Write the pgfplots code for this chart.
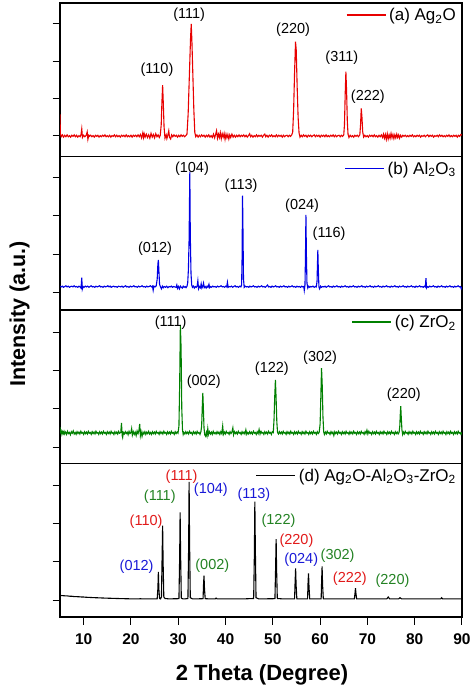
\documentclass[border=0pt]{standalone}
\usepackage{fontspec}
\setmainfont{Liberation Sans}
\usepackage{pgfplots}
\pgfplotsset{compat=1.18}

\definecolor{agred}{RGB}{232,0,0}
\definecolor{alblue}{RGB}{0,0,228}
\definecolor{zrgreen}{RGB}{0,128,0}
\definecolor{lblred}{RGB}{225,25,25}
\definecolor{lblblue}{RGB}{25,25,215}
\definecolor{lblgreen}{RGB}{35,130,35}

% short legend line with a small gap before the entry text
\pgfplotsset{legend image code/.code={%
  \draw[#1, line width=1.2bp] (0bp,0bp) -- (39bp,0bp);
  \path (40bp,0bp);}}

\pgfplotsset{
  xrdpanel/.style={
    scale only axis, width=402bp, height=153.5bp,
    xmin=5, xmax=90, anchor=south west,
    axis line style={line width=1.1bp},
    ytick={0,1,2,3}, yticklabels={}, ytick pos=left,
    xtick pos=bottom,
    tick align=outside, major tick length=7.5bp,
    tick style={line width=1bp, black},
    legend cell align=left,
    legend style={draw=none, fill=none, at={(1,1)}, anchor=north east,
      xshift=-3bp, yshift=-2bp, inner sep=1bp,
      font=\fontsize{17bp}{20bp}\selectfont},
  },
}
\tikzset{hkl/.style={font=\fontsize{14.5bp}{17bp}\selectfont, inner sep=0pt}}

\begin{document}
\begin{tikzpicture}
\path[use as bounding box] (0,0) rectangle (474bp,689bp);

% (a) Ag2O
\begin{axis}[xrdpanel, at={(60bp,532.5bp)}, ymin=-0.548, ymax=3.556, xtick=\empty]
\addplot[agred, line width=1.1bp] coordinates {
(5,0.58)(5.08,0.06)(5.25,-0.02)(5.5,0.03)(5.75,-0.03)(6,0.02)(6.25,-0.02)(6.5,0.03)(6.75,-0.02)(7,0.01)
(7.25,-0.03)(7.5,0.02)(7.75,-0.01)(8,0.03)(8.25,-0.02)(8.5,0.02)(8.75,-0.03)(9,0.01)(9.25,-0.02)(9.45,0.04)
(9.6,0.19)(9.75,-0.04)(10,0.02)(10.25,-0.02)(10.55,0.02)(10.75,0.11)(10.9,-0.09)(11.1,0.02)(11.25,-0.01)(11.5,0.02)
(11.75,-0.02)(12,0.01)(12.25,-0.03)(12.5,0.02)(12.75,-0.01)(13,0.02)(13.25,-0.03)(13.5,0.01)(13.75,-0.02)(14,0.02)
(14.25,-0.01)(14.5,0.03)(14.75,-0.02)(15,0.01)(15.25,-0.02)(15.5,0.02)(15.75,-0.03)(16,0.01)(16.25,-0.01)(16.5,0.03)
(16.75,-0.02)(17,0.02)(17.25,-0.02)(17.5,0.01)(17.75,-0.03)(18,0.02)(18.25,-0.01)(18.5,0.02)(18.75,-0.02)(19,0.03)
(19.25,-0.02)(19.5,0.01)(19.75,-0.02)(20,0.02)(20.25,-0.03)(20.5,0.02)(20.75,-0.01)(21,0.02)(21.25,-0.02)(21.5,0.03)
(21.75,-0.02)(22,0.04)(22.25,-0.05)(22.5,0.08)(22.65,-0.04)(22.8,0.06)(23,-0.03)(23.25,0.05)(23.5,-0.04)(23.75,0.03)
(24,-0.06)(24.25,0.07)(24.5,-0.03)(24.75,0.04)(25,-0.05)(25.25,0.06)(25.5,-0.02)(25.75,0.03)(26,-0.04)(26.2,0.02)
(26.4,0.3)(26.55,0.9)(26.7,1.36)(26.85,0.85)(27.0,0.25)(27.2,-0.06)(27.45,0.03)(27.6,-0.07)(27.8,0.02)(28.0,0.14)
(28.15,-0.03)(28.4,-0.08)(28.6,0.03)(28.85,-0.02)(29.1,0.03)(29.35,-0.01)(29.6,0.02)(29.85,-0.03)(30.1,0.02)(30.35,-0.02)
(30.6,0.03)(30.85,-0.01)(31.1,0.02)(31.35,-0.02)(31.6,0.01)(31.85,0.05)(32.1,0.6)(32.35,1.6)(32.6,2.6)(32.75,3.0)
(32.9,2.5)(33.1,1.6)(33.3,0.7)(33.5,0.1)(33.7,-0.02)(33.95,0.03)(34.2,-0.03)(34.45,0.02)(34.7,-0.02)(34.95,0.03)
(35.2,-0.01)(35.45,0.02)(35.7,-0.03)(35.95,0.02)(36.2,-0.02)(36.45,0.03)(36.7,-0.03)(36.95,0.01)(37.2,-0.04)(37.45,0.05)
(37.7,-0.05)(37.9,0.04)(38.1,0.14)(38.3,-0.06)(38.5,0.05)(38.7,-0.04)(38.9,0.09)(39.1,-0.07)(39.3,0.06)(39.5,-0.03)
(39.7,0.07)(39.9,-0.09)(40.1,0.05)(40.3,-0.05)(40.5,0.04)(40.7,-0.08)(40.9,0.03)(41.1,-0.04)(41.35,0.05)(41.6,-0.03)
(41.85,0.02)(42.1,-0.03)(42.35,0.02)(42.6,-0.02)(42.85,0.03)(43.1,-0.02)(43.35,0.02)(43.6,-0.01)(43.85,0.03)(44.1,-0.02)
(44.35,0.02)(44.6,-0.03)(44.85,0.01)(45.1,0.06)(45.3,-0.02)(45.55,0.02)(45.8,-0.03)(46.05,0.01)(46.3,-0.02)(46.55,0.03)
(46.8,-0.02)(47.05,0.02)(47.3,-0.01)(47.55,0.02)(47.8,-0.03)(48.05,0.02)(48.3,0.05)(48.5,-0.02)(48.75,0.02)(49,-0.03)
(49.25,0.02)(49.5,-0.01)(49.75,0.03)(50,-0.02)(50.25,0.01)(50.5,-0.02)(50.75,0.03)(51,-0.02)(51.25,0.02)(51.5,-0.01)
(51.75,0.02)(52,-0.03)(52.25,0.02)(52.5,-0.02)(52.75,0.01)(53,0.02)(53.25,-0.02)(53.5,0.02)(53.75,-0.01)(54,0.03)
(54.2,0.1)(54.4,0.7)(54.6,1.7)(54.8,2.52)(54.95,2.3)(55.15,1.3)(55.35,0.5)(55.55,0.08)(55.75,-0.03)(56,0.02)
(56.25,-0.02)(56.5,0.03)(56.75,-0.01)(57,0.02)(57.25,-0.03)(57.5,0.02)(57.75,-0.01)(58,0.02)(58.25,-0.02)(58.5,0.01)
(58.75,0.03)(59,-0.02)(59.25,0.02)(59.5,-0.01)(59.75,0.02)(60,-0.03)(60.25,0.02)(60.5,-0.01)(60.75,0.02)(61,-0.02)
(61.25,0.03)(61.5,-0.02)(61.75,0.01)(62,-0.02)(62.25,0.02)(62.5,-0.01)(62.75,0.03)(63,-0.02)(63.25,0.02)(63.5,-0.02)
(63.75,0.01)(64,0.02)(64.25,-0.02)(64.5,0.02)(64.75,-0.01)(65,0.03)(65.15,0.3)(65.3,1.1)(65.45,1.72)(65.6,1.2)
(65.75,0.4)(65.9,0.05)(66.1,-0.04)(66.35,0.02)(66.6,-0.02)(66.85,0.01)(67.1,-0.03)(67.35,0.02)(67.6,-0.01)(67.85,0.02)
(68.1,-0.02)(68.4,0.03)(68.55,0.3)(68.7,0.74)(68.85,0.5)(69.0,0.12)(69.2,-0.03)(69.45,0.02)(69.7,-0.02)(69.95,0.01)
(70.2,-0.03)(70.45,0.02)(70.7,-0.01)(70.95,0.02)(71.2,-0.02)(71.45,0.03)(71.7,-0.02)(71.95,0.01)(72.2,-0.03)(72.45,0.02)
(72.7,-0.02)(72.95,0.03)(73.2,-0.04)(73.4,0.05)(73.6,-0.06)(73.8,0.04)(74.0,-0.09)(74.2,0.06)(74.4,-0.08)(74.6,0.03)
(74.8,-0.06)(75.0,0.07)(75.2,-0.05)(75.4,0.04)(75.6,-0.07)(75.8,0.03)(76.0,-0.05)(76.2,0.05)(76.4,-0.04)(76.6,0.03)
(76.8,-0.06)(77.0,0.02)(77.25,-0.03)(77.5,0.02)(77.75,-0.01)(78,0.02)(78.25,-0.02)(78.5,0.01)(78.75,-0.02)(79,0.02)
(79.25,-0.01)(79.5,0.03)(79.75,-0.02)(80,0.01)(80.25,-0.02)(80.5,0.02)(80.75,-0.01)(81,0.02)(81.25,-0.03)(81.5,0.01)
(81.75,-0.01)(82,0.02)(82.25,-0.02)(82.5,0.01)(82.75,0.03)(83,-0.02)(83.25,0.02)(83.5,-0.01)(83.75,0.02)(84,-0.03)
(84.25,0.01)(84.5,-0.01)(84.75,0.02)(85,-0.02)(85.25,0.03)(85.5,-0.01)(85.75,0.02)(86,-0.02)(86.25,0.01)(86.5,-0.02)
(86.75,0.02)(87,-0.01)(87.25,0.03)(87.5,-0.02)(87.75,0.01)(88,-0.02)(88.25,0.02)(88.5,-0.01)(88.75,0.02)(89,-0.03)
(89.25,0.02)(89.5,-0.01)(89.75,0.04)(90,0.02)
};
\addlegendentry{(a) Ag\textsubscript{2}O}
\node[hkl] at (axis cs:25.5,1.76) {(110)};
\node[hkl] at (axis cs:32.3,3.24) {(111)};
\node[hkl] at (axis cs:54.3,2.83) {(220)};
\node[hkl] at (axis cs:64.6,2.09) {(311)};
\node[hkl] at (axis cs:70.1,1.04) {(222)};
\end{axis}

% (b) Al2O3
\begin{axis}[xrdpanel, at={(60bp,379bp)}, ymin=-0.45, ymax=3.54, xtick=\empty]
\addplot[alblue, line width=1.1bp] coordinates {
(5,0.17)(5.25,0.15)(5.5,0.17)(5.75,0.14)(6,0.16)(6.25,0.18)(6.5,0.15)(6.75,0.17)(7,0.14)(7.25,0.16)
(7.5,0.17)(7.75,0.15)(8,0.18)(8.25,0.15)(8.5,0.16)(8.75,0.14)(9,0.17)(9.25,0.15)(9.45,0.12)(9.6,0.39)
(9.72,0.09)(9.9,0.16)(10.1,0.14)(10.35,0.17)(10.6,0.15)(10.85,0.17)(11.1,0.14)(11.35,0.16)(11.6,0.18)(11.85,0.15)
(12.1,0.16)(12.35,0.14)(12.6,0.17)(12.85,0.15)(13.1,0.16)(13.35,0.18)(13.6,0.15)(13.85,0.16)(14.1,0.14)(14.35,0.17)
(14.6,0.15)(14.85,0.16)(15.1,0.18)(15.35,0.15)(15.6,0.17)(15.85,0.14)(16.1,0.16)(16.35,0.17)(16.6,0.15)(16.85,0.16)
(17.1,0.14)(17.35,0.17)(17.6,0.16)(17.85,0.15)(18.1,0.17)(18.35,0.14)(18.6,0.16)(18.85,0.18)(19.1,0.15)(19.35,0.16)
(19.6,0.14)(19.85,0.17)(20.1,0.15)(20.35,0.16)(20.6,0.18)(20.85,0.15)(21.1,0.16)(21.35,0.14)(21.6,0.17)(21.85,0.15)
(22.1,0.16)(22.35,0.18)(22.6,0.15)(22.85,0.16)(23.1,0.14)(23.35,0.17)(23.6,0.15)(23.85,0.16)(24.1,0.18)(24.35,0.15)
(24.55,0.17)(24.7,0.06)(24.85,0.17)(25.1,0.15)(25.35,0.18)(25.55,0.35)(25.7,0.75)(25.8,0.85)(25.9,0.6)(26.05,0.22)
(26.25,0.15)(26.45,0.1)(26.65,0.17)(26.85,0.13)(27.05,0.16)(27.3,0.14)(27.55,0.17)(27.8,0.13)(28.05,0.16)(28.3,0.15)
(28.55,0.17)(28.8,0.14)(29.05,0.16)(29.3,0.15)(29.55,0.14)(29.7,0.2)(29.85,0.11)(30.05,0.16)(30.25,0.1)(30.45,0.17)
(30.65,0.14)(30.85,0.12)(31.05,0.17)(31.25,0.14)(31.45,0.16)(31.65,0.13)(31.85,0.17)(32.0,0.25)(32.15,0.6)(32.3,1.4)
(32.45,3.14)(32.55,1.5)(32.7,0.5)(32.85,0.2)(33.0,0.14)(33.2,0.17)(33.4,0.12)(33.6,0.16)(33.8,0.14)(34.0,0.17)
(34.15,0.31)(34.3,0.1)(34.5,0.16)(34.7,0.13)(34.85,0.23)(35.0,0.12)(35.2,0.17)(35.35,0.25)(35.5,0.13)(35.7,0.16)
(35.9,0.12)(36.1,0.17)(36.3,0.14)(36.5,0.22)(36.65,0.13)(36.85,0.16)(37.05,0.14)(37.3,0.17)(37.55,0.15)(37.8,0.16)
(38.05,0.14)(38.3,0.17)(38.55,0.15)(38.8,0.16)(39.05,0.18)(39.3,0.15)(39.55,0.16)(39.8,0.14)(40.05,0.17)(40.25,0.15)
(40.4,0.27)(40.55,0.14)(40.75,0.16)(41,0.15)(41.25,0.17)(41.5,0.14)(41.75,0.16)(42,0.18)(42.25,0.15)(42.5,0.16)
(42.75,0.14)(43,0.17)(43.25,0.15)(43.4,0.2)(43.5,0.9)(43.6,2.52)(43.7,1.5)(43.8,0.35)(43.95,0.14)(44.15,0.17)
(44.4,0.15)(44.65,0.16)(44.9,0.14)(45.15,0.17)(45.4,0.15)(45.65,0.16)(45.9,0.18)(46.15,0.15)(46.4,0.16)(46.65,0.14)
(46.9,0.17)(47.15,0.15)(47.4,0.16)(47.65,0.18)(47.9,0.15)(48.15,0.16)(48.4,0.14)(48.65,0.17)(48.9,0.2)(49.1,0.15)
(49.35,0.16)(49.6,0.14)(49.85,0.17)(50.1,0.15)(50.35,0.16)(50.6,0.18)(50.85,0.15)(51.1,0.16)(51.35,0.14)(51.6,0.17)
(51.85,0.15)(52.1,0.16)(52.35,0.18)(52.6,0.15)(52.85,0.16)(53.1,0.14)(53.35,0.17)(53.6,0.15)(53.85,0.16)(54.1,0.18)
(54.35,0.15)(54.6,0.16)(54.85,0.14)(55.1,0.17)(55.35,0.15)(55.6,0.16)(55.85,0.14)(56.1,0.17)(56.35,0.15)(56.55,0.16)
(56.65,0.06)(56.8,0.2)(56.9,0.9)(57.0,2.02)(57.1,1.0)(57.22,0.25)(57.4,0.12)(57.6,0.17)(57.8,0.14)(58.0,0.16)
(58.25,0.15)(58.5,0.17)(58.75,0.14)(59.0,0.16)(59.2,0.15)(59.35,0.3)(59.45,0.8)(59.52,1.11)(59.62,0.6)(59.75,0.15)
(59.9,0.1)(60.1,0.17)(60.3,0.14)(60.55,0.16)(60.8,0.15)(61.05,0.17)(61.3,0.14)(61.55,0.16)(61.8,0.18)(62.05,0.15)
(62.3,0.16)(62.55,0.14)(62.8,0.17)(63.05,0.15)(63.3,0.16)(63.55,0.18)(63.8,0.15)(64.05,0.16)(64.3,0.14)(64.55,0.17)
(64.8,0.15)(65.05,0.16)(65.3,0.18)(65.55,0.15)(65.8,0.16)(66.05,0.14)(66.3,0.17)(66.55,0.15)(66.8,0.16)(67.05,0.18)
(67.3,0.15)(67.55,0.16)(67.8,0.14)(68.05,0.17)(68.3,0.15)(68.55,0.16)(68.8,0.18)(69.05,0.15)(69.3,0.16)(69.55,0.14)
(69.8,0.17)(70.05,0.15)(70.3,0.16)(70.55,0.18)(70.8,0.15)(71.05,0.16)(71.3,0.14)(71.55,0.17)(71.8,0.15)(72.05,0.16)
(72.3,0.18)(72.55,0.15)(72.8,0.16)(73.05,0.14)(73.3,0.17)(73.55,0.15)(73.8,0.16)(74.05,0.18)(74.3,0.15)(74.55,0.16)
(74.8,0.14)(75.05,0.17)(75.3,0.15)(75.55,0.16)(75.8,0.18)(76.05,0.15)(76.3,0.16)(76.55,0.14)(76.8,0.17)(77.05,0.15)
(77.3,0.16)(77.55,0.18)(77.8,0.15)(78.05,0.16)(78.3,0.14)(78.55,0.17)(78.8,0.15)(79.05,0.16)(79.3,0.18)(79.55,0.15)
(79.8,0.16)(80.05,0.14)(80.3,0.17)(80.55,0.15)(80.8,0.16)(81.05,0.18)(81.3,0.15)(81.55,0.16)(81.8,0.14)(82.05,0.17)
(82.25,0.15)(82.38,0.38)(82.5,0.12)(82.7,0.16)(82.95,0.14)(83.2,0.17)(83.45,0.15)(83.7,0.16)(83.95,0.18)(84.2,0.15)
(84.45,0.16)(84.7,0.14)(84.95,0.17)(85.2,0.15)(85.45,0.16)(85.7,0.18)(85.95,0.15)(86.2,0.16)(86.45,0.14)(86.7,0.17)
(86.95,0.15)(87.2,0.16)(87.45,0.18)(87.7,0.15)(87.95,0.16)(88.2,0.14)(88.45,0.17)(88.7,0.15)(88.95,0.16)(89.2,0.18)
(89.45,0.15)(89.7,0.16)(89.85,0.1)(90,0.14)
};
\addlegendentry{(b) Al\textsubscript{2}O\textsubscript{3}}
\node[hkl] at (axis cs:25.1,1.14) {(012)};
\node[hkl] at (axis cs:32.9,3.21) {(104)};
\node[hkl] at (axis cs:43.3,2.78) {(113)};
\node[hkl] at (axis cs:56.2,2.25) {(024)};
\node[hkl] at (axis cs:61.9,1.52) {(116)};
\end{axis}

% (c) ZrO2
\begin{axis}[xrdpanel, at={(60bp,225.5bp)}, ymin=-0.43, ymax=3.577, xtick=\empty]
\addplot[zrgreen, line width=1.1bp] coordinates {
(5,0.52)(5.1,0.38)(5.25,0.42)(5.4,0.33)(5.55,0.4)(5.7,0.35)(5.85,0.41)(6,0.34)(6.2,0.39)(6.4,0.33)
(6.6,0.41)(6.8,0.35)(7,0.38)(7.2,0.32)(7.4,0.4)(7.6,0.36)(7.8,0.42)(8,0.34)(8.2,0.38)(8.4,0.33)
(8.6,0.4)(8.8,0.35)(9,0.39)(9.2,0.34)(9.4,0.41)(9.6,0.36)(9.8,0.38)(10,0.33)(10.2,0.4)(10.4,0.35)
(10.6,0.39)(10.8,0.34)(11,0.41)(11.2,0.36)(11.4,0.38)(11.6,0.33)(11.8,0.4)(12,0.35)(12.2,0.39)(12.4,0.34)
(12.6,0.41)(12.8,0.36)(13,0.38)(13.2,0.33)(13.4,0.4)(13.6,0.35)(13.8,0.39)(14,0.34)(14.2,0.41)(14.4,0.36)
(14.6,0.38)(14.8,0.33)(15,0.4)(15.2,0.35)(15.4,0.39)(15.6,0.34)(15.8,0.41)(16,0.36)(16.2,0.38)(16.4,0.33)
(16.6,0.4)(16.8,0.35)(17,0.39)(17.2,0.34)(17.4,0.41)(17.6,0.36)(17.85,0.38)(18.0,0.63)(18.15,0.3)(18.25,0.25)
(18.4,0.38)(18.6,0.34)(18.8,0.4)(19,0.35)(19.2,0.39)(19.4,0.32)(19.6,0.41)(19.8,0.35)(20.0,0.38)(20.15,0.48)
(20.3,0.31)(20.5,0.4)(20.7,0.33)(20.9,0.39)(21.1,0.3)(21.3,0.42)(21.5,0.35)(21.7,0.44)(21.85,0.6)(22.0,0.3)
(22.15,0.4)(22.35,0.28)(22.55,0.39)(22.75,0.34)(22.95,0.4)(23.15,0.33)(23.35,0.39)(23.55,0.35)(23.75,0.41)(23.95,0.34)
(24.15,0.38)(24.35,0.33)(24.55,0.4)(24.75,0.35)(24.95,0.39)(25.15,0.34)(25.35,0.41)(25.55,0.36)(25.75,0.38)(25.95,0.33)
(26.15,0.4)(26.35,0.35)(26.55,0.39)(26.75,0.34)(26.95,0.41)(27.15,0.36)(27.35,0.38)(27.55,0.33)(27.75,0.4)(27.95,0.35)
(28.15,0.39)(28.35,0.34)(28.55,0.41)(28.75,0.36)(28.95,0.38)(29.15,0.33)(29.35,0.4)(29.55,0.35)(29.75,0.39)(29.95,0.36)
(30.15,0.55)(30.3,1.6)(30.45,3.19)(30.6,2.6)(30.75,1.0)(30.9,0.45)(31.05,0.33)(31.2,0.38)(31.4,0.34)(31.6,0.4)
(31.8,0.35)(32,0.39)(32.2,0.34)(32.4,0.41)(32.6,0.36)(32.8,0.38)(33,0.33)(33.2,0.4)(33.4,0.35)(33.6,0.39)
(33.8,0.34)(34,0.41)(34.2,0.36)(34.4,0.38)(34.6,0.33)(34.8,0.4)(34.95,0.55)(35.1,1.1)(35.2,1.41)(35.32,1.0)
(35.45,0.5)(35.6,0.32)(35.8,0.28)(35.95,0.38)(36.1,0.3)(36.25,0.48)(36.4,0.33)(36.6,0.4)(36.8,0.34)(37,0.39)
(37.2,0.33)(37.4,0.41)(37.6,0.35)(37.8,0.38)(38,0.34)(38.2,0.4)(38.4,0.35)(38.6,0.39)(38.8,0.33)(39.0,0.4)
(39.2,0.35)(39.4,0.55)(39.55,0.33)(39.75,0.39)(39.95,0.34)(40.15,0.41)(40.35,0.36)(40.55,0.38)(40.75,0.33)(40.95,0.4)
(41.15,0.35)(41.35,0.39)(41.55,0.5)(41.7,0.32)(41.9,0.4)(42.1,0.35)(42.3,0.39)(42.5,0.34)(42.7,0.41)(42.9,0.36)
(43.1,0.38)(43.3,0.33)(43.5,0.4)(43.7,0.35)(43.9,0.39)(44.1,0.34)(44.3,0.45)(44.5,0.33)(44.7,0.38)(44.9,0.34)
(45.1,0.4)(45.3,0.35)(45.5,0.39)(45.7,0.34)(45.9,0.41)(46.1,0.36)(46.3,0.38)(46.5,0.33)(46.7,0.4)(46.9,0.35)
(47.1,0.46)(47.3,0.34)(47.5,0.41)(47.7,0.36)(47.9,0.38)(48.1,0.33)(48.3,0.4)(48.5,0.35)(48.7,0.39)(48.9,0.34)
(49.1,0.41)(49.3,0.36)(49.5,0.38)(49.7,0.33)(49.9,0.4)(50.1,0.38)(50.25,0.7)(50.4,1.3)(50.55,1.75)(50.7,1.25)
(50.85,0.65)(51.0,0.38)(51.2,0.34)(51.4,0.4)(51.6,0.35)(51.8,0.39)(52,0.34)(52.2,0.41)(52.4,0.36)(52.6,0.38)
(52.8,0.33)(53,0.4)(53.2,0.35)(53.4,0.39)(53.6,0.34)(53.8,0.41)(54,0.36)(54.2,0.38)(54.4,0.33)(54.6,0.4)
(54.8,0.35)(55,0.39)(55.2,0.34)(55.4,0.41)(55.6,0.36)(55.8,0.38)(56,0.33)(56.2,0.4)(56.4,0.35)(56.6,0.39)
(56.8,0.34)(57,0.41)(57.2,0.36)(57.4,0.38)(57.6,0.33)(57.8,0.4)(58,0.35)(58.2,0.39)(58.4,0.34)(58.6,0.41)
(58.8,0.36)(59,0.38)(59.2,0.33)(59.4,0.4)(59.6,0.35)(59.8,0.38)(60.0,0.6)(60.15,1.3)(60.3,2.06)(60.45,1.6)
(60.6,0.8)(60.75,0.4)(60.9,0.33)(61.1,0.39)(61.3,0.34)(61.5,0.41)(61.7,0.36)(61.9,0.38)(62.1,0.33)(62.3,0.4)
(62.5,0.35)(62.7,0.39)(62.9,0.3)(63.1,0.4)(63.3,0.35)(63.5,0.39)(63.7,0.34)(63.9,0.41)(64.1,0.36)(64.3,0.38)
(64.5,0.33)(64.7,0.4)(64.9,0.35)(65.1,0.39)(65.3,0.34)(65.5,0.41)(65.7,0.36)(65.9,0.38)(66.1,0.33)(66.3,0.4)
(66.5,0.35)(66.7,0.39)(66.9,0.34)(67.1,0.41)(67.3,0.36)(67.5,0.38)(67.7,0.33)(67.9,0.4)(68.1,0.35)(68.3,0.39)
(68.5,0.34)(68.7,0.41)(68.9,0.36)(69.1,0.38)(69.3,0.33)(69.5,0.4)(69.7,0.35)(69.9,0.44)(70.1,0.34)(70.3,0.41)
(70.5,0.36)(70.7,0.38)(70.9,0.33)(71.1,0.4)(71.3,0.35)(71.5,0.39)(71.7,0.34)(71.9,0.41)(72.1,0.36)(72.3,0.38)
(72.5,0.33)(72.7,0.4)(72.9,0.35)(73.1,0.39)(73.3,0.34)(73.5,0.41)(73.7,0.36)(73.9,0.38)(74.1,0.33)(74.3,0.4)
(74.5,0.35)(74.7,0.39)(74.9,0.34)(75.1,0.41)(75.3,0.36)(75.5,0.38)(75.7,0.33)(75.9,0.4)(76.1,0.35)(76.3,0.39)
(76.5,0.34)(76.7,0.38)(76.85,0.55)(76.95,0.85)(77.05,1.07)(77.15,0.8)(77.3,0.45)(77.45,0.33)(77.6,0.39)(77.8,0.34)
(78,0.41)(78.2,0.36)(78.4,0.38)(78.6,0.33)(78.8,0.4)(79,0.35)(79.2,0.39)(79.4,0.34)(79.6,0.41)(79.8,0.36)
(80,0.38)(80.2,0.33)(80.4,0.4)(80.6,0.35)(80.8,0.39)(81,0.34)(81.2,0.41)(81.4,0.36)(81.6,0.38)(81.8,0.33)
(82,0.4)(82.2,0.35)(82.4,0.39)(82.6,0.34)(82.8,0.41)(83,0.36)(83.2,0.38)(83.4,0.33)(83.6,0.4)(83.8,0.35)
(84,0.39)(84.2,0.34)(84.4,0.41)(84.6,0.36)(84.8,0.38)(85,0.33)(85.2,0.4)(85.4,0.35)(85.6,0.39)(85.8,0.34)
(86,0.41)(86.2,0.36)(86.4,0.38)(86.6,0.33)(86.8,0.4)(87,0.35)(87.2,0.39)(87.4,0.34)(87.6,0.41)(87.8,0.36)
(88,0.38)(88.2,0.33)(88.4,0.4)(88.6,0.35)(88.8,0.39)(89,0.34)(89.2,0.41)(89.4,0.36)(89.6,0.38)(89.8,0.33)
(90,0.38)
};
\addlegendentry{(c) ZrO\textsubscript{2}}
\node[hkl] at (axis cs:28.4,3.25) {(111)};
\node[hkl] at (axis cs:35.4,1.70) {(002)};
\node[hkl] at (axis cs:49.8,2.04) {(122)};
\node[hkl] at (axis cs:60.0,2.32) {(302)};
\node[hkl] at (axis cs:77.7,1.36) {(220)};
\end{axis}

% (d) composite
\begin{axis}[xrdpanel, at={(60bp,72bp)}, ymin=-0.446, ymax=3.583,
  xtick={10,20,...,90},
  xticklabel style={font=\fontsize{15.5bp}{18bp}\selectfont\bfseries, yshift=-6bp},
  /pgf/number format/assume math mode=true]
\addplot[black, line width=1.1bp] coordinates {
(5,0.12)(5.5,0.115)(6,0.11)(6.5,0.108)(7,0.1)(7.5,0.098)(8,0.09)(8.5,0.088)(9,0.085)(9.5,0.08)
(10,0.078)(10.5,0.072)(11,0.07)(11.5,0.066)(12,0.063)(12.5,0.06)(13,0.058)(13.5,0.055)(14,0.053)(14.5,0.05)
(15,0.048)(15.5,0.046)(16,0.044)(16.5,0.042)(17,0.04)(17.5,0.038)(18,0.036)(18.5,0.035)(19,0.033)(19.5,0.032)
(20,0.03)(21,0.03)(22,0.032)(23,0.03)(24,0.031)(25,0.03)(25.55,0.03)(25.7,0.3)(25.8,0.74)(25.9,0.3)
(26.05,0.04)(26.25,0.03)(26.45,0.08)(26.6,1.2)(26.7,1.95)(26.8,1.0)(26.95,0.08)(27.2,0.04)(28,0.03)(29,0.032)
(30.15,0.035)(30.3,1.1)(30.4,2.30)(30.5,1.2)(30.65,0.05)(31,0.03)(31.5,0.03)(32.05,0.04)(32.2,1.4)(32.3,3.10)
(32.4,1.5)(32.55,0.06)(33,0.03)(34,0.03)(35.25,0.035)(35.35,0.4)(35.45,0.64)(35.55,0.3)(35.7,0.035)(36.5,0.03)
(37.8,0.03)(38,0.05)(38.2,0.03)(40,0.03)(42,0.03)(44,0.03)(45.95,0.04)(46.1,1.2)(46.2,2.58)(46.3,1.4)
(46.45,0.06)(47,0.03)(48,0.03)(50.45,0.035)(50.6,0.9)(50.7,1.60)(50.8,0.8)(50.95,0.04)(52,0.03)(54.6,0.03)
(54.72,0.5)(54.82,0.83)(54.92,0.4)(55.08,0.03)(56,0.03)(57.35,0.03)(57.45,0.45)(57.55,0.70)(57.65,0.35)(57.8,0.03)
(59,0.03)(60.22,0.03)(60.32,0.5)(60.42,0.88)(60.52,0.4)(60.68,0.03)(62,0.03)(64,0.03)(67.25,0.03)(67.38,0.18)
(67.48,0.31)(67.58,0.17)(67.72,0.03)(70,0.03)(72,0.03)(74.1,0.03)(74.4,0.08)(74.7,0.03)(76.6,0.03)(76.9,0.06)
(77.2,0.03)(80,0.03)(83,0.03)(85.5,0.03)(85.7,0.06)(85.9,0.03)(88,0.03)(90,0.03)
};
\addlegendentry{(d) Ag\textsubscript{2}O-Al\textsubscript{2}O\textsubscript{3}-ZrO\textsubscript{2}}
\node[hkl, text=lblblue]  at (axis cs:21.2,0.87) {(012)};
\node[hkl, text=lblred]   at (axis cs:23.2,2.06) {(110)};
\node[hkl, text=lblgreen] at (axis cs:26.1,2.71) {(111)};
\node[hkl, text=lblred]   at (axis cs:30.7,3.24) {(111)};
\node[hkl, text=lblblue]  at (axis cs:36.9,2.89) {(104)};
\node[hkl, text=lblgreen] at (axis cs:37.2,0.89) {(002)};
\node[hkl, text=lblblue]  at (axis cs:46.0,2.77) {(113)};
\node[hkl, text=lblgreen] at (axis cs:51.2,2.07) {(122)};
\node[hkl, text=lblred]   at (axis cs:55.0,1.55) {(220)};
\node[hkl, text=lblblue]  at (axis cs:56.0,1.05) {(024)};
\node[hkl, text=lblgreen] at (axis cs:63.7,1.16) {(302)};
\node[hkl, text=lblred]   at (axis cs:66.3,0.55) {(222)};
\node[hkl, text=lblgreen] at (axis cs:75.3,0.51) {(220)};
\end{axis}

\node[rotate=90, anchor=base, font=\fontsize{21.5bp}{26bp}\selectfont\bfseries] at (25bp,375bp) {Intensity (a.u.)};
\node[anchor=base, font=\fontsize{22bp}{26bp}\selectfont\bfseries] at (262bp,9bp) {2 Theta (Degree)};
\end{tikzpicture}
\end{document}
